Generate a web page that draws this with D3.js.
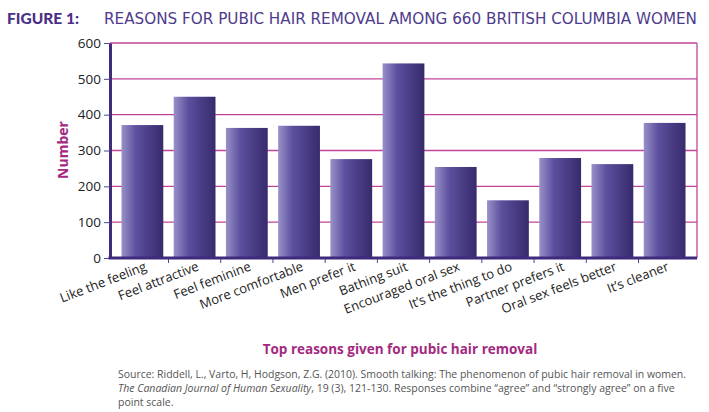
<!DOCTYPE html>
<html>
<head>
<meta charset="utf-8">
<script src="https://cdn.jsdelivr.net/npm/d3@7"></script>
<style>
  body { margin: 0; background: #fff; }
  svg { display: block; }
</style>
</head>
<body>
<div class="container"></div>
<script>
const WIDTH = 709;
const HEIGHT = 412;

// plot area
const LEFT = 110, RIGHT = 697, TOP = 43, BOTTOM = 258;

var reasons = ["Like the feeling", "Feel attractive", "Feel feminine", "More comfortable",
    "Men prefer it", "Bathing suit", "Encouraged oral sex", "It\u2019s the thing to do",
    "Partner prefers it", "Oral sex feels better", "It\u2019s cleaner"];
var counts = [371, 450, 363, 369, 276, 543, 254, 161, 279, 262, 377];
var yTicks = [0, 100, 200, 300, 400, 500, 600];

var svg, xScale, yScale;

var translate = function (x, y) {
    return "translate(" + x + "," + y + ")";
};

var drawTitle = function () {
    svg.append("text")
        .attr("x", 7).attr("y", 24)
        .attr("font-family", "Lato, sans-serif")
        .attr("font-weight", "900")
        .attr("font-size", 15.5)
        .attr("fill", "#4a2f86")
        .text("FIGURE 1:");
    svg.append("text")
        .attr("x", 104).attr("y", 24)
        .attr("font-family", "'DejaVu Sans', sans-serif")
        .attr("font-weight", "normal")
        .attr("font-size", 15.5)
        .attr("fill", "#4d3b8c")
        .attr("textLength", 593)
        .attr("lengthAdjust", "spacingAndGlyphs")
        .text("REASONS FOR PUBIC HAIR REMOVAL AMONG 660 BRITISH COLUMBIA WOMEN");
};

var generateAxis = function () {
    xScale = d3.scaleBand()
        .domain(reasons)
        .range([LEFT, RIGHT])
        .paddingInner(0.2)
        .paddingOuter(0.22);

    yScale = d3.scaleLinear()
        .domain([0, 600])
        .range([BOTTOM, TOP]);

    // gridlines
    svg.append("g").selectAll("line")
        .data(yTicks.filter(function (d) { return d > 0; }))
        .enter().append("line")
        .attr("x1", LEFT).attr("x2", RIGHT)
        .attr("y1", function (d) { return yScale(d); })
        .attr("y2", function (d) { return yScale(d); })
        .attr("stroke", "#c2449a")
        .attr("stroke-width", 1.3);

    // right border
    svg.append("line")
        .attr("x1", RIGHT).attr("x2", RIGHT)
        .attr("y1", TOP).attr("y2", BOTTOM)
        .attr("stroke", "#c2449a")
        .attr("stroke-width", 1.3);

    var yAxis = d3.axisLeft(yScale).tickValues(yTicks).tickSizeInner(6).tickSizeOuter(0).tickPadding(3);
    var yg = svg.append("g")
        .attr("transform", translate(LEFT, 0))
        .call(yAxis);
    yg.select(".domain").attr("stroke", "#3f2b7c").attr("stroke-width", 3);
    yg.selectAll(".tick line").attr("stroke", "#5b3f8f").attr("stroke-width", 1);
    yg.selectAll(".tick text")
        .attr("font-family", "'Open Sans', sans-serif")
        .attr("font-size", 13.5)
        .attr("fill", "#222");

    svg.append("text")
        .attr("transform", translate(68, 150) + " rotate(-90)")
        .attr("text-anchor", "middle")
        .attr("font-family", "'Open Sans', sans-serif")
        .attr("font-weight", "bold")
        .attr("font-size", 14)
        .attr("fill", "#a3297f")
        .text("Number");
};

var drawBars = function () {
    var defs = svg.append("defs");
    var grad = defs.append("linearGradient")
        .attr("id", "barGrad")
        .attr("x1", "0%").attr("x2", "100%")
        .attr("y1", "0%").attr("y2", "0%");
    grad.append("stop").attr("offset", "0%").attr("stop-color", "#9891c8");
    grad.append("stop").attr("offset", "35%").attr("stop-color", "#5c4f9e");
    grad.append("stop").attr("offset", "100%").attr("stop-color", "#372a6c");

    svg.append("g").selectAll("rect")
        .data(counts)
        .enter().append("rect")
        .attr("x", function (d, i) { return xScale(reasons[i]); })
        .attr("y", function (d) { return yScale(d); })
        .attr("width", xScale.bandwidth())
        .attr("height", function (d) { return yScale(0) - yScale(d); })
        .attr("fill", "url(#barGrad)");

    // category boundary ticks
    var step = xScale.step();
    var bounds = reasons.slice(1).map(function (r) {
        return xScale(r) - (step - xScale.bandwidth()) / 2;
    });
    svg.append("g").selectAll("line")
        .data(bounds)
        .enter().append("line")
        .attr("x1", function (d) { return d; })
        .attr("x2", function (d) { return d; })
        .attr("y1", BOTTOM).attr("y2", BOTTOM + 5)
        .attr("stroke", "#5b3f8f")
        .attr("stroke-width", 1);

    // x axis line
    svg.append("line")
        .attr("x1", LEFT - 1.5).attr("x2", RIGHT)
        .attr("y1", BOTTOM).attr("y2", BOTTOM)
        .attr("stroke", "#3f2b7c")
        .attr("stroke-width", 3);

    svg.append("g").selectAll("text")
        .data(reasons)
        .enter().append("text")
        .attr("transform", function (d) {
            return translate(xScale(d) + xScale.bandwidth() / 2 + 5, BOTTOM + 12) + " rotate(-21)";
        })
        .attr("text-anchor", "end")
        .attr("font-family", "'Open Sans', sans-serif")
        .attr("font-size", 13)
        .attr("fill", "#222")
        .text(function (d) { return d; });

    svg.append("text")
        .attr("x", 400).attr("y", 354)
        .attr("text-anchor", "middle")
        .attr("font-family", "'Open Sans', sans-serif")
        .attr("font-weight", "bold")
        .attr("font-size", 13.5)
        .attr("fill", "#a3297f")
        .text("Top reasons given for pubic hair removal");
};

var drawSource = function () {
    var g = svg.append("g")
        .attr("font-family", "'Open Sans', sans-serif")
        .attr("font-size", 10.5)
        .attr("fill", "#555");
    g.append("text").attr("x", 118).attr("y", 378)
        .attr("textLength", 568).attr("lengthAdjust", "spacingAndGlyphs")
        .text("Source: Riddell, L., Varto, H, Hodgson, Z.G. (2010).  Smooth talking: The phenomenon of pubic hair removal in women.");
    var t2 = g.append("text").attr("x", 118).attr("y", 392);
    t2.append("tspan").attr("font-style", "italic").text("The Canadian Journal of Human Sexuality");
    t2.append("tspan").text(", 19 (3), 121-130. Responses combine \u201cagree\u201d and \u201cstrongly agree\u201d on a five");
    g.append("text").attr("x", 118).attr("y", 406).text("point scale.");
};

var generateChart = function () {
    svg = d3.select(".container").append("svg")
        .attr("width", WIDTH)
        .attr("height", HEIGHT);
    drawTitle();
    generateAxis();
    drawBars();
    drawSource();
};

window.onload = generateChart;
</script>
</body>
</html>
